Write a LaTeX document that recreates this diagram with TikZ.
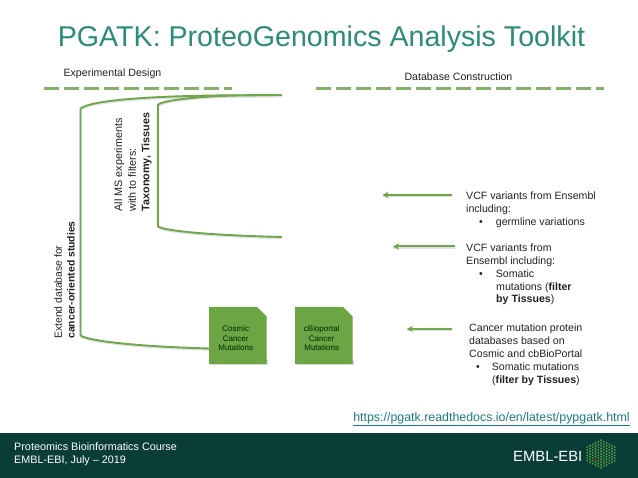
\documentclass[tikz,border=0pt]{standalone}
\usepackage{fontspec}
\setmainfont{Liberation Sans}
\usetikzlibrary{arrows.meta,calc}
\definecolor{gr}{HTML}{6FA84B}
\definecolor{boxg}{HTML}{6BA544}
\definecolor{dashg}{HTML}{84B26A}
\definecolor{tealt}{HTML}{2B8C78}
\definecolor{foot}{HTML}{0A3D38}
\definecolor{urlc}{HTML}{1F7A80}
\definecolor{tx}{HTML}{222222}
\definecolor{logog}{HTML}{4E9F3D}
\tikzset{
 x=1pt,y=-1pt,
 captxt/.style={font=\fontsize{10.6}{12}\selectfont,text=tx,inner sep=0pt},
 bodytxt/.style={font=\fontsize{10.6}{12.9}\selectfont,text=tx,inner sep=0pt,anchor=north west,align=left},
 rottxt/.style={text=tx,inner sep=0pt,rotate=90,align=left},
 dashline/.style={draw=dashg,line width=2.8pt,dash pattern=on 15pt off 5pt},
 greencurve/.style={draw=gr,line width=1.9pt,line join=round,
   preaction={draw=black!12,line width=2pt,transform canvas={yshift=-1.2pt}}},
 arrowg/.style={draw=gr,line width=2pt,-{Stealth[length=6pt,width=6.5pt]},
   preaction={draw=black!12,line width=2pt,-,transform canvas={yshift=-1.2pt}}},
 boxtxt/.style={font=\fontsize{8}{9.6}\selectfont,text=black!85!green,align=center,inner sep=0pt},
}
\newcommand{\snip}[1]{(#1,307) -- ++(48,0) -- ++(9.5,9.5) -- ++(0,47.5) -- ++(-57.5,0) -- cycle}
\begin{document}
\begin{tikzpicture}
\useasboundingbox (0,0) rectangle (638,478);
\fill[white] (0,0) rectangle (638,478);
% title
\node[inner sep=0pt,text=tealt,font=\fontsize{28.6}{32}\selectfont] (title) at (321.5,39) {PGATK: ProteoGenomics Analysis Toolkit};
\node[captxt] (expd) at (112.5,74) {Experimental Design};
\node[captxt] (dbc) at (458.5,76.5) {Database Construction};
\coordinate (d1a) at (44,88.3); \coordinate (d1b) at (232,88.3);
\coordinate (d2a) at (316,88.3); \coordinate (d2b) at (604,88.3);
\draw[dashline] (d1a) -- (d1b);
\draw[dashline] (d2a) -- (d2b);
% curves
\coordinate (top) at (282,95);
\coordinate (midb) at (282,237);
\fill[black!15] (209.5,360) rectangle (267.8,365.5);
\fill[black!15] (295.5,360) rectangle (353.8,365.5);
\path[fill=boxg] \snip{209} ;
\path[fill=boxg] \snip{295} ;
\coordinate (cosL) at (209,348.5);
\draw[greencurve] (top) -- (230,95.3) .. controls (150,96) and (92,100) .. (80.5,108.5) -- (80.5,335) .. controls (82,339) and (120,346) .. (cosL);
\draw[greencurve] (top) -- (240,95.5) .. controls (200,96) and (165,100) .. (158,104.5) -- (158,226) .. controls (160,230) and (200,235) .. (midb);
\node[boxtxt] (cos) at (235.7,338.5) {Cosmic\\Cancer\\Mutations};
\node[boxtxt] (cbio) at (321.7,338.5) {cBioportal\\Cancer\\Mutations};
% rotated
\node[rottxt,font=\fontsize{10.4}{12.6}\selectfont] (extend) at (64.5,280) {Extend database for\\\textbf{cancer-oriented studies}};
\node[rottxt,font=\fontsize{10.8}{13.7}\selectfont] (allms) at (133,162) {All MS experiments\\with to filters:\\\textbf{Taxonomy, Tissues}};
% arrows
\coordinate (a1s) at (451.5,195); \coordinate (a1e) at (382.5,195);
\coordinate (a2s) at (455,246.5); \coordinate (a2e) at (393,246.5);
\coordinate (a3s) at (452,329); \coordinate (a3e) at (407,329);
\draw[arrowg] (a1s) -- (a1e);
\draw[arrowg] (a2s) -- (a2e);
\draw[arrowg] (a3s) -- (a3e);
% text
\node[bodytxt] (v1) at (466,192) {VCF variants from Ensembl\\including:\\\hspace*{13pt}•\hspace*{13pt}germline variations};
\node[bodytxt] (v2) at (466,243.5) {VCF variants from\\Ensembl including:\\\hspace*{13pt}•\hspace*{13pt}Somatic\\\hspace*{30pt}mutations (\textbf{filter}\\\hspace*{30pt}\textbf{by Tissues})};
\node[bodytxt] (v3) at (469,324) {Cancer mutation protein\\databases based on\\Cosmic and cbBioPortal\\\hspace*{7pt}•\hspace*{12pt}Somatic mutations\\\hspace*{23pt}(\textbf{filter by Tissues})};
\node[inner sep=0pt,text=urlc,font=\fontsize{12.4}{14}\selectfont] (url) at (491.5,419.5) {\underline{https://pgatk.readthedocs.io/en/latest/pypgatk.html}};
% footer
\fill[foot] (0,433) rectangle (638,478);
\node[inner sep=0pt,text=white,anchor=west,align=left,font=\fontsize{10.8}{13.2}\selectfont] (course) at (14,454) {Proteomics Bioinformatics Course\\EMBL-EBI, July -- 2019};
\node[inner sep=0pt,text=white,anchor=west,font=\fontsize{14.8}{16}\selectfont] (embl) at (513,456.5) {EMBL-EBI};
% logo
\foreach \col in {-5,...,5}{
  \pgfmathsetmacro{\n}{11-abs(\col)}
  \pgfmathtruncatemacro{\m}{\n-1}
  \foreach \k in {0,...,\m}{
    \fill[logog] ({601+\col*2.75},{454+(\k-\m/2)*2.75}) circle (1.1pt);
  }
}
\fill[red!80!black] (595.5,459) circle (1.2pt);
\end{tikzpicture}
\end{document}
